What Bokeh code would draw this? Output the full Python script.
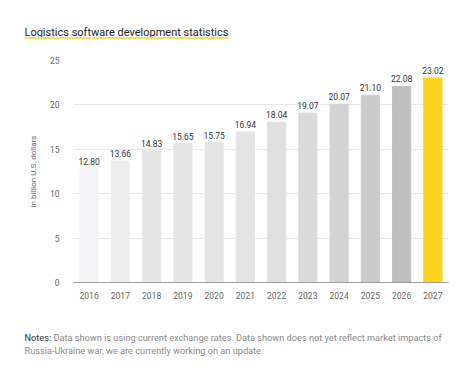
from bokeh.plotting import figure
from bokeh.layouts import column
from bokeh.models import ColumnDataSource, FixedTicker, FactorRange, Range1d
from bokeh.core.properties import value
from bokeh.embed import file_html
from bokeh.resources import INLINE

years = ["2016", "2017", "2018", "2019", "2020", "2021", "2022", "2023", "2024", "2025", "2026", "2027"]
values = [12.80, 13.66, 14.83, 15.65, 15.75, 16.94, 18.04, 19.07, 20.07, 21.10, 22.08, 23.02]
colors = ["#f3f3f5", "#eeeeee", "#e6e6e6", "#e6e6e6", "#e5e5e5", "#e4e4e4",
          "#e0e0e0", "#dadada", "#d3d3d3", "#cbcbcb", "#bebebe", "#fdd31c"]
y_ticks = [0, 5, 10, 15, 20, 25]
title_text = "Logistics software development statistics"
y_label = "in billion U.S. dollars"
notes_head = "Notes:"
notes_line1 = "Data shown is using current exchange rates. Data shown does not yet reflect market impacts of"
notes_line2 = "Russia-Ukraine war, we are currently working on an update."

FONT = "Roboto"
W = 474


def blank(height):
    f = figure(width=W, height=height, x_range=Range1d(0, W), y_range=Range1d(height, 0),
               output_backend="svg", toolbar_location=None, x_axis_type=None, y_axis_type=None,
               min_border=0, frame_align=False)
    f.outline_line_color = None
    f.grid.visible = False
    f.background_fill_color = "white"
    f.border_fill_color = "white"
    return f


# header: title + yellow underline (pixel layout coordinates)
head = blank(50)
head.text(x=[24], y=[32], text=[title_text], text_font=value(FONT), text_font_size="11px",
          text_color="#222222", text_baseline="alphabetic", text_align="left")
head.segment(x0=[24], y0=[37.5], x1=[228], y1=[37.5], line_color="#f0df6e", line_width=2)

# main chart
src = ColumnDataSource(dict(x=years, top=values, color=colors,
                            label=["%.2f" % v for v in values]))

p = figure(width=W, height=260, x_range=FactorRange(*years, range_padding=0),
           y_range=Range1d(0, 25), output_backend="svg", toolbar_location=None,
           min_border_left=73, min_border_right=26, min_border_top=10, min_border_bottom=28,
           frame_align=False)
p.outline_line_color = None
p.background_fill_color = "white"
p.border_fill_color = "white"

p.vbar(x="x", top="top", width=0.58, color="color", source=src)
p.text(x="x", y="top", text="label", source=src, text_align="center", text_baseline="bottom",
       y_offset=-4, text_font=value(FONT), text_font_size="8.5px", text_color="#333333")

p.yaxis.ticker = FixedTicker(ticks=y_ticks)
p.yaxis.axis_line_color = None
p.yaxis.major_tick_line_color = None
p.yaxis.minor_tick_line_color = None
p.yaxis.major_label_text_font = FONT
p.yaxis.major_label_text_font_size = "8.5px"
p.yaxis.major_label_text_color = "#666666"
p.yaxis.major_label_standoff = 8
p.yaxis.axis_label = y_label
p.yaxis.axis_label_text_font = FONT
p.yaxis.axis_label_text_font_style = "normal"
p.yaxis.axis_label_text_font_size = "8px"
p.yaxis.axis_label_text_color = "#666666"
p.yaxis.axis_label_standoff = 9

p.xaxis.axis_line_color = "#a0a0a0"
p.xaxis.major_tick_line_color = None
p.xaxis.minor_tick_line_color = None
p.xaxis.major_label_text_font = FONT
p.xaxis.major_label_text_font_size = "8.5px"
p.xaxis.major_label_text_color = "#666666"
p.xaxis.major_label_standoff = 3

p.xgrid.grid_line_color = None
p.ygrid.grid_line_color = "#e8e8e8"

# footer notes
foot = blank(65)
foot.text(x=[24], y=[27], text=[notes_head], text_font=value(FONT), text_font_size="9.2px",
          text_color="#333333", text_baseline="alphabetic", text_align="left")
foot.text(x=[53], y=[27], text=[notes_line1], text_font=value(FONT), text_font_size="9.2px",
          text_color="#8a8a8a", text_baseline="alphabetic", text_align="left")
foot.text(x=[24], y=[40], text=[notes_line2], text_font=value(FONT), text_font_size="9.2px",
          text_color="#8a8a8a", text_baseline="alphabetic", text_align="left")

layout = column(head, p, foot, spacing=0)
open("out.html", "w").write(file_html(layout, INLINE))
